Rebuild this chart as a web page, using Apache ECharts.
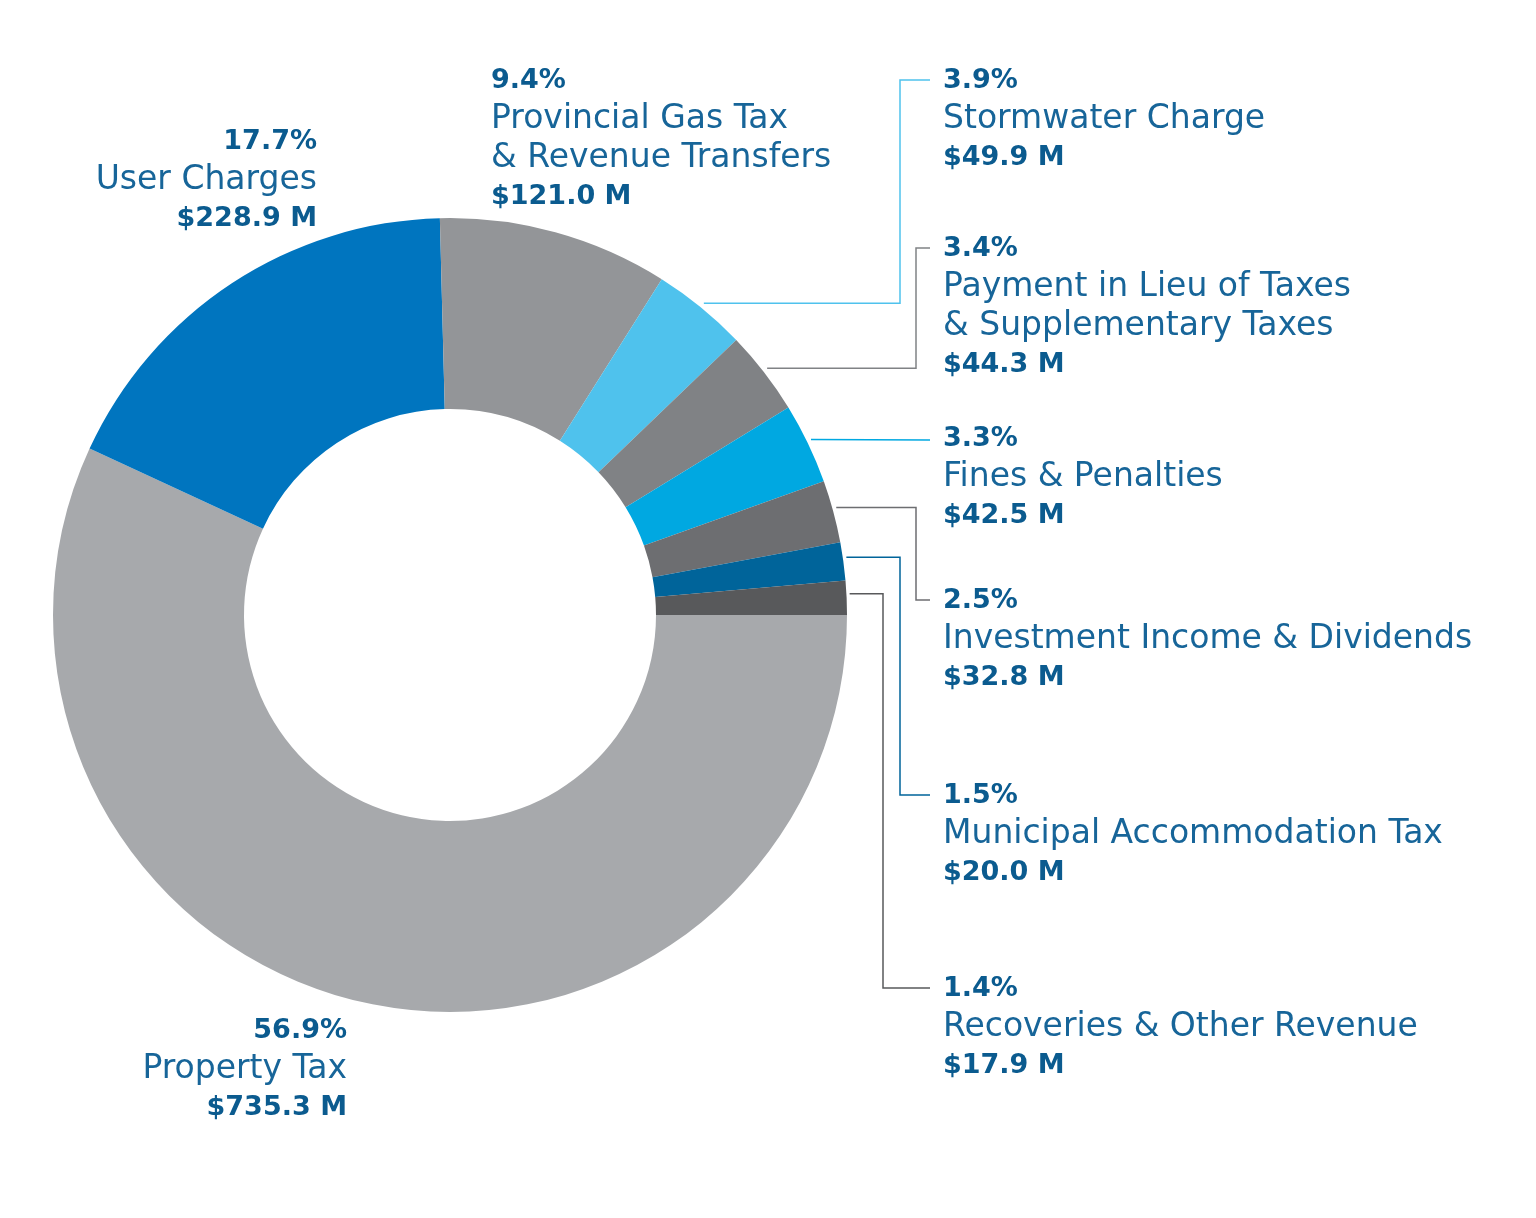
<!DOCTYPE html>
<html>
<head>
<meta charset="utf-8">
<title>Revenue sources</title>
<script src="https://cdn.jsdelivr.net/npm/echarts@6/dist/echarts.min.js"></script>
<style>
    html, body { margin: 0; padding: 0; background: #fff; }
    #chart { width: 1536px; height: 1218px; }
</style>
</head>
<body>
<div id="chart"></div>
<script>
    // data ($ millions)
    const categories = [
        'Property Tax',
        'User Charges',
        'Provincial Gas Tax\n& Revenue Transfers',
        'Stormwater Charge',
        'Payment in Lieu of Taxes\n& Supplementary Taxes',
        'Fines & Penalties',
        'Investment Income & Dividends',
        'Municipal Accommodation Tax',
        'Recoveries & Other Revenue'
    ];
    const amounts = [735.3, 228.9, 121.0, 49.9, 44.3, 42.5, 32.8, 20.0, 17.9];
    const sliceColors = ['#a7a9ac', '#0075bf', '#939598', '#4fc2ed', '#808285', '#00a8e1', '#6d6e71', '#00649a', '#58595b'];

    // where each label block sits: [x, y of first line centre, align]
    const labelAnchors = [
        [347, 1030, 'right'],
        [317, 141, 'right'],
        [491, 80, 'left'],
        [943, 80, 'left'],
        [943, 248, 'left'],
        [943, 438, 'left'],
        [943, 600, 'left'],
        [943, 795, 'left'],
        [943, 988, 'left']
    ];
    // x of the vertical part of each leader line (null = no line, 0 = straight line)
    const elbowX = [null, null, null, 900, 916, 0, 916, 900, 883];
    const lineEndX = 930;
    const LH = 38.5;

    const chart = echarts.init(document.getElementById('chart'));

    const seriesData = categories.map(function (name, i) {
        return {
            name: name,
            value: amounts[i],
            itemStyle: { color: sliceColors[i] },
            labelLine: { show: elbowX[i] !== null }
        };
    });

    chart.setOption({
        backgroundColor: '#ffffff',
        animation: false,
        series: [{
            type: 'pie',
            center: [450, 615],
            radius: [206, 397],
            startAngle: 0,
            clockwise: true,
            avoidLabelOverlap: false,
            percentPrecision: 1,
            data: seriesData,
            label: {
                show: true,
                position: 'outside',
                formatter: function (p) {
                    return '{pct|' + p.percent.toFixed(1) + '%}\n{name|' +
                        p.name.split('\n').join('}\n{name|') + '}\n{amt|$' + p.value.toFixed(1) + ' M}';
                },
                rich: {
                    pct: { fontFamily: 'DejaVu Sans', fontWeight: 'bold', fontSize: 27, color: '#0b5b8f', lineHeight: LH },
                    name: { fontFamily: 'DejaVu Sans', fontSize: 33, color: '#176599', lineHeight: LH },
                    amt: { fontFamily: 'DejaVu Sans', fontWeight: 'bold', fontSize: 27, color: '#0b5b8f', lineHeight: LH }
                }
            },
            labelLine: {
                length: 20,
                length2: 20,
                lineStyle: { width: 1.5 }
            },
            labelLayout: function (params) {
                const i = params.dataIndex;
                const a = labelAnchors[i];
                const out = { x: a[0], y: a[1] - LH / 2 + 1, align: a[2], verticalAlign: 'top' };
                const pts = params.labelLinePoints;
                if (elbowX[i] !== null && pts && pts.length) {
                    const p0 = [pts[0][0] + 3, pts[0][1] - 4];
                    if (elbowX[i] === 0) {
                        out.labelLinePoints = [p0, [lineEndX, a[1] + 2]];
                    } else {
                        out.labelLinePoints = [p0, [elbowX[i], p0[1]], [elbowX[i], a[1]], [lineEndX, a[1]]];
                    }
                }
                return out;
            }
        }]
    });
</script>
</body>
</html>
